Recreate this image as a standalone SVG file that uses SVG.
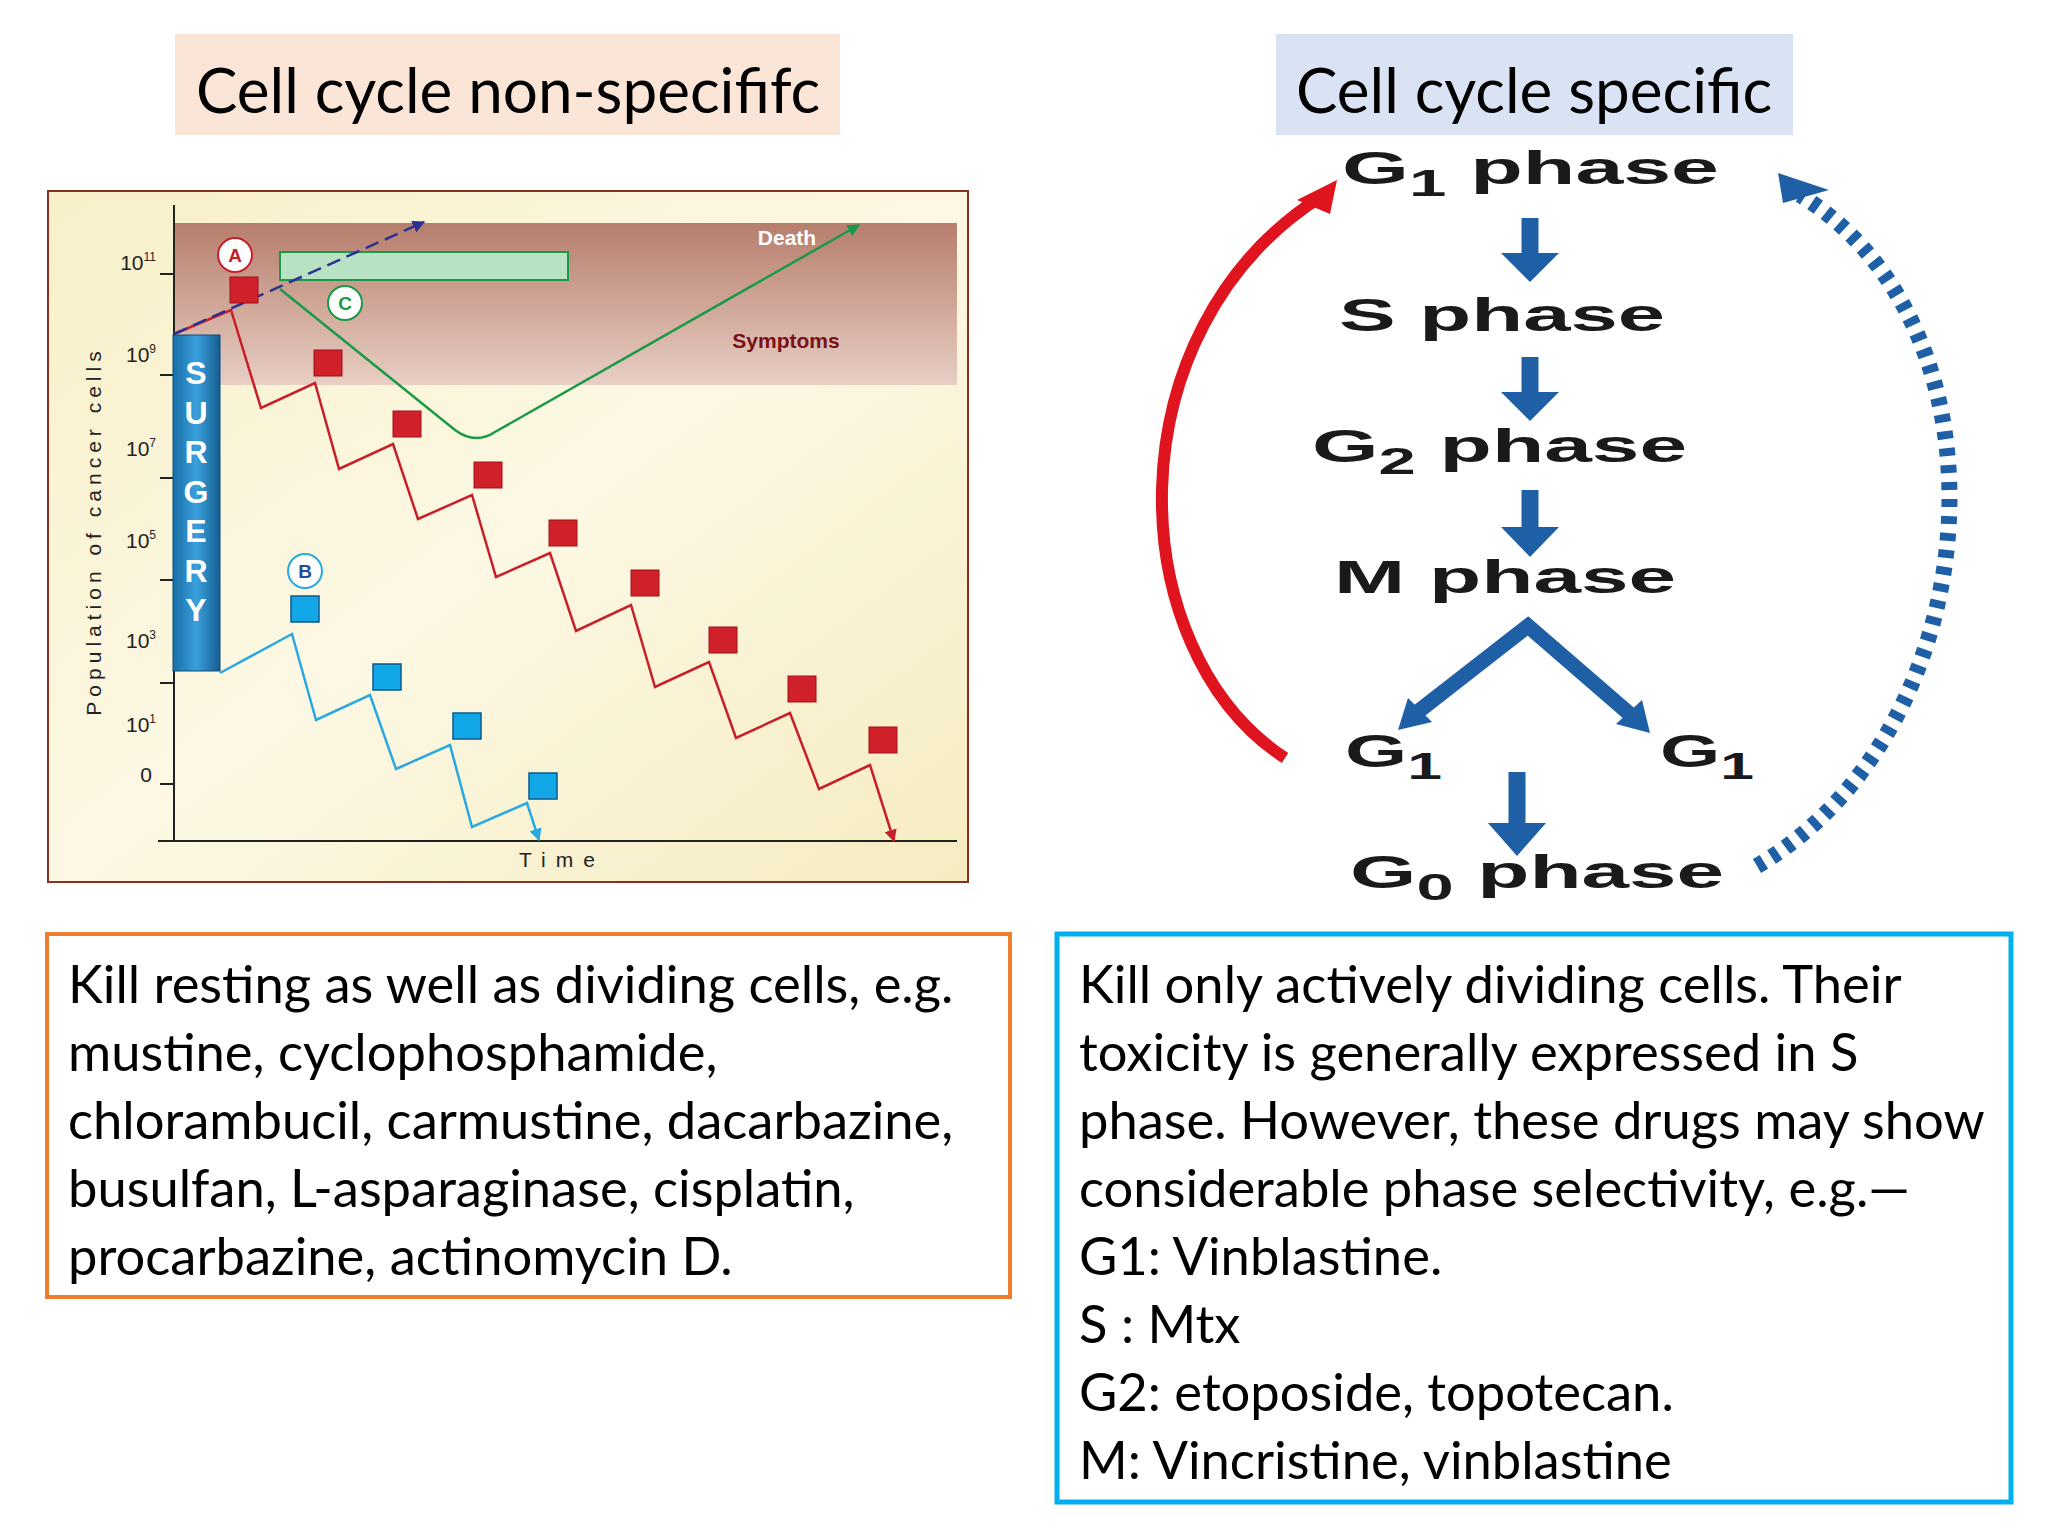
<svg xmlns="http://www.w3.org/2000/svg" width="2048" height="1536" viewBox="0 0 2048 1536">
<defs>
<linearGradient id="bg" x1="0" y1="0" x2="1" y2="1"><stop offset="0" stop-color="#f8f0c8"/><stop offset="0.5" stop-color="#fcf8e4"/><stop offset="1" stop-color="#f6ecc0"/></linearGradient>
<linearGradient id="band" x1="0" y1="0" x2="0" y2="1"><stop offset="0" stop-color="#b67e6c"/><stop offset="1" stop-color="#e8cfc4"/></linearGradient>
<linearGradient id="surg" x1="0" y1="0" x2="1" y2="0"><stop offset="0" stop-color="#1a6fa8"/><stop offset="0.5" stop-color="#3aa0dc"/><stop offset="1" stop-color="#145d90"/></linearGradient>
<marker id="ar" viewBox="0 0 10 10" refX="9" refY="5" markerWidth="5" markerHeight="5" orient="auto"><path d="M0,0L10,5L0,10z" fill="#c8202a"/></marker>
<marker id="ab" viewBox="0 0 10 10" refX="9" refY="5" markerWidth="5" markerHeight="5" orient="auto"><path d="M0,0L10,5L0,10z" fill="#2aa8e0"/></marker>
<marker id="ag" viewBox="0 0 10 10" refX="9" refY="5" markerWidth="5" markerHeight="5" orient="auto"><path d="M0,0L10,5L0,10z" fill="#1a9a48"/></marker>
<marker id="an" viewBox="0 0 10 10" refX="9" refY="5" markerWidth="5" markerHeight="5" orient="auto"><path d="M0,0L10,5L0,10z" fill="#2e3192"/></marker>
</defs>
<style>
.t{font-family:Lato,"Noto Sans",sans-serif;font-size:52.5px;fill:#000}
.h{font-family:Lato,"Noto Sans",sans-serif;font-size:62px;fill:#000}
.ax{font-family:"Liberation Sans",Arial,sans-serif;font-size:21px;fill:#222}
.ph{font-family:"Liberation Sans",Arial,sans-serif;font-weight:bold;font-size:46px;fill:#1a1a1a}
.rs{fill:#d0202a;stroke:#a01018;stroke-width:1}
.bs{fill:#12a8e8;stroke:#0a5a8a;stroke-width:1.5}
.sg{font-family:"Liberation Sans",Arial,sans-serif;font-weight:bold;font-size:32px;fill:#fff}
.blk{stroke:#1f5fa6;stroke-width:17;fill:none}
</style>
<g id="title-left"><rect x="175" y="34" width="665" height="101" fill="#fbe5d6"/><text class="h" x="196" y="113">Cell cycle non-specififc</text></g>
<g id="title-right"><rect x="1276" y="34" width="517" height="101" fill="#dae3f3"/><text class="h" x="1296" y="113">Cell cycle specific</text></g>
<g id="chart">
<rect x="48" y="191" width="920" height="691" fill="url(#bg)" stroke="#8a3020" stroke-width="2"/>
<rect x="174" y="223" width="783" height="162" fill="url(#band)"/>
<g stroke="#222" stroke-width="2" fill="none">
<path d="M174,205V841M158,841H957"/>
<path d="M160,274H174M160,375H174M160,478H174M160,580H174M160,683H174M160,784H174"/>
</g>
<g class="ax" text-anchor="end">
<text x="156" y="270">10<tspan font-size="12" dy="-9">11</tspan></text>
<text x="156" y="362">10<tspan font-size="12" dy="-9">9</tspan></text>
<text x="156" y="456">10<tspan font-size="12" dy="-9">7</tspan></text>
<text x="156" y="548">10<tspan font-size="12" dy="-9">5</tspan></text>
<text x="156" y="648">10<tspan font-size="12" dy="-9">3</tspan></text>
<text x="156" y="732">10<tspan font-size="12" dy="-9">1</tspan></text>
<text x="152" y="782">0</text>
</g>
<text class="ax" transform="translate(101,531) rotate(-90)" text-anchor="middle" letter-spacing="5">Population of cancer cells</text>
<text class="ax" x="562" y="867" text-anchor="middle" letter-spacing="10">Time</text>
<text x="787" y="245" text-anchor="middle" font-family="Liberation Sans,Arial,sans-serif" font-weight="bold" font-size="21" fill="#fff">Death</text>
<text x="786" y="348" text-anchor="middle" font-family="Liberation Sans,Arial,sans-serif" font-weight="bold" font-size="21" fill="#7a1018">Symptoms</text>
<rect x="280" y="252" width="288" height="28" fill="#b8e2c4" stroke="#1a9a48" stroke-width="2"/>
<path d="M280,289L455,430Q475,445 495,432L859,225" fill="none" stroke="#1a9a48" stroke-width="2.5" marker-end="url(#ag)"/>
<path d="M174,334L231,310L261,408L315,383L339,469L393,444L418,519L472,495L496,577L550,553L576,631L631,605L655,687L709,662L736,738L790,713L819,789L870,765L894,841" fill="none" stroke="#c8202a" stroke-width="2.5" marker-end="url(#ar)"/>
<path d="M220,673L292,634L316,720L370,695L396,769L450,745L472,827L527,803L539,840" fill="none" stroke="#2aa8e0" stroke-width="2.5" marker-end="url(#ab)"/>
<path d="M174,334L424,222" fill="none" stroke="#2e3192" stroke-width="2.5" stroke-dasharray="14 7" marker-end="url(#an)"/>
<rect x="173" y="335" width="47" height="336" fill="url(#surg)" stroke="#0c4a78" stroke-width="1"/>
<g class="sg" text-anchor="middle"><text x="196" y="384">S</text><text x="196" y="424">U</text><text x="196" y="463">R</text><text x="196" y="503">G</text><text x="196" y="542">E</text><text x="196" y="582">R</text><text x="196" y="621">Y</text></g>
<g>
<rect class="rs" x="230" y="277" width="28" height="26"/><rect class="rs" x="314" y="350" width="28" height="26"/><rect class="rs" x="393" y="411" width="28" height="26"/><rect class="rs" x="474" y="462" width="28" height="26"/><rect class="rs" x="549" y="520" width="28" height="26"/><rect class="rs" x="631" y="570" width="28" height="26"/><rect class="rs" x="709" y="627" width="28" height="26"/><rect class="rs" x="788" y="676" width="28" height="26"/><rect class="rs" x="869" y="727" width="28" height="26"/>
<rect class="bs" x="291" y="596" width="28" height="26"/><rect class="bs" x="373" y="664" width="28" height="26"/><rect class="bs" x="453" y="713" width="28" height="26"/><rect class="bs" x="529" y="773" width="28" height="26"/>
</g>
<g font-family="Liberation Sans,Arial,sans-serif" font-weight="bold" font-size="19" text-anchor="middle">
<circle cx="235" cy="255" r="17" fill="#fff" stroke="#c8202a" stroke-width="2"/><text x="235" y="262" fill="#c8202a">A</text>
<circle cx="345" cy="303" r="17" fill="#fff" stroke="#1a9a48" stroke-width="2"/><text x="345" y="310" fill="#1a9a48">C</text>
<circle cx="305" cy="571" r="17" fill="#fff" stroke="#2aa8e0" stroke-width="2"/><text x="305" y="578" fill="#1f4f9a">B</text>
</g>
</g>
<g id="cycle">
<text class="ph" x="1342" y="184" textLength="377" lengthAdjust="spacingAndGlyphs">G<tspan font-size="36" dy="12">1</tspan><tspan dy="-12"> phase</tspan></text>
<text class="ph" x="1339" y="331" textLength="326" lengthAdjust="spacingAndGlyphs">S phase</text>
<text class="ph" x="1312" y="462" textLength="375" lengthAdjust="spacingAndGlyphs">G<tspan font-size="36" dy="12">2</tspan><tspan dy="-12"> phase</tspan></text>
<text class="ph" x="1334" y="593" textLength="342" lengthAdjust="spacingAndGlyphs">M phase</text>
<text class="ph" x="1345" y="767" textLength="97" lengthAdjust="spacingAndGlyphs">G<tspan font-size="36" dy="12">1</tspan></text>
<text class="ph" x="1660" y="767" textLength="94" lengthAdjust="spacingAndGlyphs">G<tspan font-size="36" dy="12">1</tspan></text>
<text class="ph" x="1350" y="888" textLength="374" lengthAdjust="spacingAndGlyphs">G<tspan font-size="36" dy="12">0</tspan><tspan dy="-12"> phase</tspan></text>
</g>
<g id="connectors">
<path class="blk" d="M1530,218V262"/><path d="M1501,253H1559L1530,282z" fill="#1f5fa6"/>
<path class="blk" d="M1530,357V400"/><path d="M1501,392H1559L1530,421z" fill="#1f5fa6"/>
<path class="blk" d="M1530,490V536"/><path d="M1501,527H1559L1530,557z" fill="#1f5fa6"/>
<path class="blk" d="M1517,772V832"/><path d="M1488,823H1546L1517,856z" fill="#1f5fa6"/>
<path d="M1415,714L1528,626L1632,716" fill="none" stroke="#1f5fa6" stroke-width="15"/>
<path d="M1398,730L1408,698L1432,722z" fill="#1f5fa6"/>
<path d="M1650,733L1616,724L1642,700z" fill="#1f5fa6"/>
<path d="M1285,758C1120,650 1110,330 1322,196" fill="none" stroke="#e0141e" stroke-width="12"/>
<path d="M1337,180L1297,200L1330,214z" fill="#e0141e"/>
<path d="M1757,866C1990,730 2020,330 1800,195" fill="none" stroke="#1f5fa6" stroke-width="16" stroke-dasharray="8 9"/>
<path d="M1778,173L1829,190L1783,203z" fill="#1f5fa6"/>
</g>
<g id="box-left"><rect x="47" y="934" width="963" height="363" fill="#fff" stroke="#ed7d31" stroke-width="4"/>
<text class="t" x="68" y="1003">Kill resting as well as dividing cells, e.g.</text>
<text class="t" x="68" y="1071">mustine, cyclophosphamide,</text>
<text class="t" x="68" y="1139">chlorambucil, carmustine, dacarbazine,</text>
<text class="t" x="68" y="1207">busulfan, L-asparaginase, cisplatin,</text>
<text class="t" x="68" y="1275">procarbazine, actinomycin D.</text></g>
<g id="box-right"><rect x="1057" y="934" width="954" height="568" fill="#fff" stroke="#00b0f0" stroke-width="5"/>
<text class="t" x="1079" y="1003">Kill only actively dividing cells. Their</text>
<text class="t" x="1079" y="1071">toxicity is generally expressed in S</text>
<text class="t" x="1079" y="1139">phase. However, these drugs may show</text>
<text class="t" x="1079" y="1207">considerable phase selectivity, e.g.—</text>
<text class="t" x="1079" y="1275">G1: Vinblastine.</text>
<text class="t" x="1079" y="1343">S : Mtx</text>
<text class="t" x="1079" y="1411">G2: etoposide, topotecan.</text>
<text class="t" x="1079" y="1479">M: Vincristine, vinblastine</text></g>
</svg>
